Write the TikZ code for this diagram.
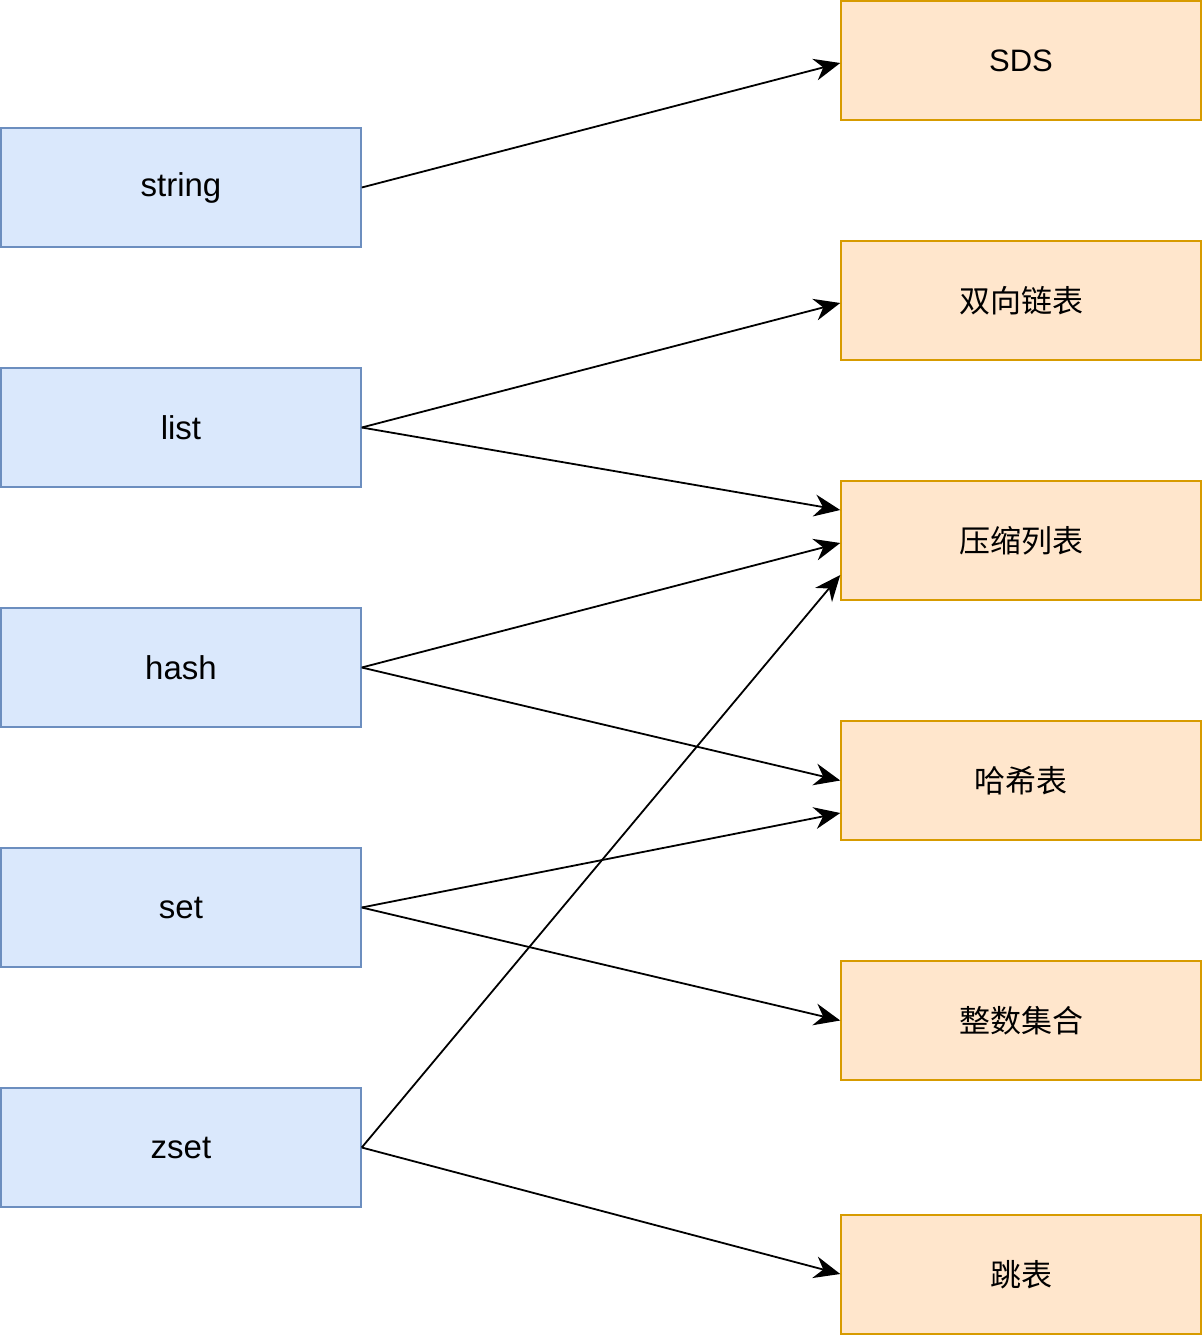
\documentclass[tikz,border=0pt]{standalone}
\usepackage{fontspec}
\setmainfont{Liberation Sans}
\newfontfamily\cjk{Noto Sans CJK SC}
\usetikzlibrary{arrows.meta}
\definecolor{typefill}{HTML}{DAE8FC}
\definecolor{typedraw}{HTML}{6C8EBF}
\definecolor{implfill}{HTML}{FFE6CC}
\definecolor{impldraw}{HTML}{D79B00}
\tikzset{
  type/.style={rectangle, minimum width=360pt, minimum height=119pt, draw=typedraw, fill=typefill, line width=1.5pt, font=\fontsize{33}{38}\selectfont},
  impl/.style={rectangle, minimum width=360pt, minimum height=119pt, draw=impldraw, fill=implfill, line width=1.5pt, font=\fontsize{31}{36}\selectfont\cjk},
  arrow/.style={line width=1.8pt, -{Stealth[length=26pt,width=22pt]}}
}
\begin{document}
\begin{tikzpicture}[x=1pt, y=-1pt]
\useasboundingbox (0,0) rectangle (1204,1338);

% data types
\node (string) [type] at (181,187.5) {string};
\node (list) [type] at (181,427.5) {list};
\node (hash) [type] at (181,667.5) {hash};
\node (set) [type] at (181,907.5) {set};
\node (zset) [type] at (181,1147.5) {zset};

% structures
\node (sds) [impl] at (1021,60.5) {\fontspec{Liberation Sans}SDS};
\node (dlist) [impl] at (1021,300.5) {双向链表};
\node (zip) [impl] at (1021,540.5) {压缩列表};
\node (htab) [impl] at (1021,780.5) {哈希表};
\node (ints) [impl] at (1021,1020.5) {整数集合};
\node (skip) [impl] at (1021,1274.5) {跳表};

\draw[arrow] (string.east) -- ([yshift=-2.5pt]sds.west);
\draw[arrow] (list.east) -- ([yshift=-2.5pt]dlist.west);
\draw[arrow] (list.east) -- ([yshift=30.5pt]zip.west);
\draw[arrow] (hash.east) -- ([yshift=-2.5pt]zip.west);
\draw[arrow] (hash.east) -- (htab.west);
\draw[arrow] (set.east) -- ([yshift=-32.5pt]htab.west);
\draw[arrow] (set.east) -- (ints.west);
\draw[arrow] (zset.east) -- ([yshift=-34.5pt]zip.west);
\draw[arrow] (zset.east) -- ([yshift=0.5pt]skip.west);
\end{tikzpicture}
\end{document}
